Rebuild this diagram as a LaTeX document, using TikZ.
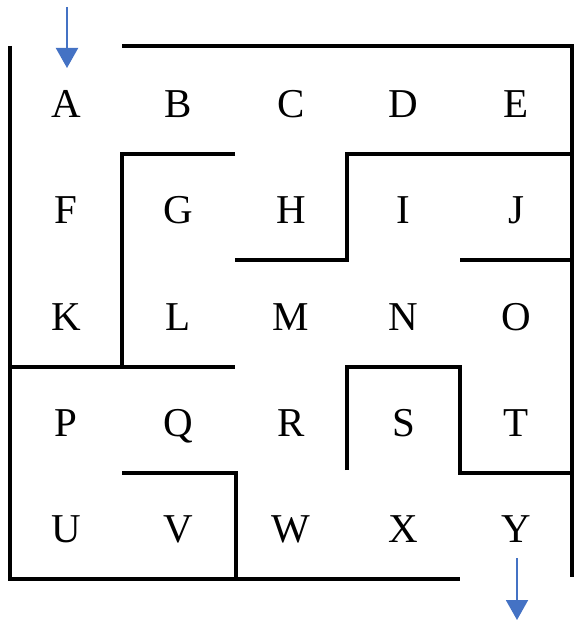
\documentclass[tikz,border=0pt]{standalone}
\usepackage{fontspec}
\setmainfont{Liberation Serif}
\usetikzlibrary{arrows.meta}
\definecolor{arrowblue}{HTML}{4472C4}
\begin{document}
\begin{tikzpicture}[x=1pt,y=-1pt,
  wall/.style={line width=4.5pt,black,line join=miter},
  cell/.style={font=\fontsize{41}{48}\selectfont,inner sep=0pt,anchor=base},
  flow/.style={line width=2pt,arrowblue,-{Triangle[width=22pt,length=20pt]}}]
\useasboundingbox (0,0) rectangle (584,626);
% letters
\foreach \r/\row in {0/{A,B,C,D,E},1/{F,G,H,I,J},2/{K,L,M,N,O},3/{P,Q,R,S,T},4/{U,V,W,X,Y}}{
  \foreach \l [count=\c from 0] in \row {
    \node[cell] (\l) at ({66+112.5*\c},{117.5+106.3*\r}) {\l};
  }
}
% walls
\draw[wall] (10,46) -- (10,579) -- (460,579);
\draw[wall] (122,46) -- (572,46) -- (572,577);
\draw[wall] (235,154) -- (122,154) -- (122,367);
\draw[wall] (10,367) -- (235,367);
\draw[wall] (235,260) -- (347,260) -- (347,154) -- (572,154);
\draw[wall] (460,260) -- (572,260);
\draw[wall] (347,470) -- (347,367) -- (460,367) -- (460,473) -- (572,473);
\draw[wall] (122,473) -- (236,473) -- (236,579);
% entry / exit arrows
\coordinate (inS) at (67,7);
\coordinate (inE) at (67,68);
\coordinate (outS) at (517,558);
\coordinate (outE) at (517,620);
\draw[flow] (inS) -- (inE);
\draw[flow] (outS) -- (outE);
\end{tikzpicture}
\end{document}
